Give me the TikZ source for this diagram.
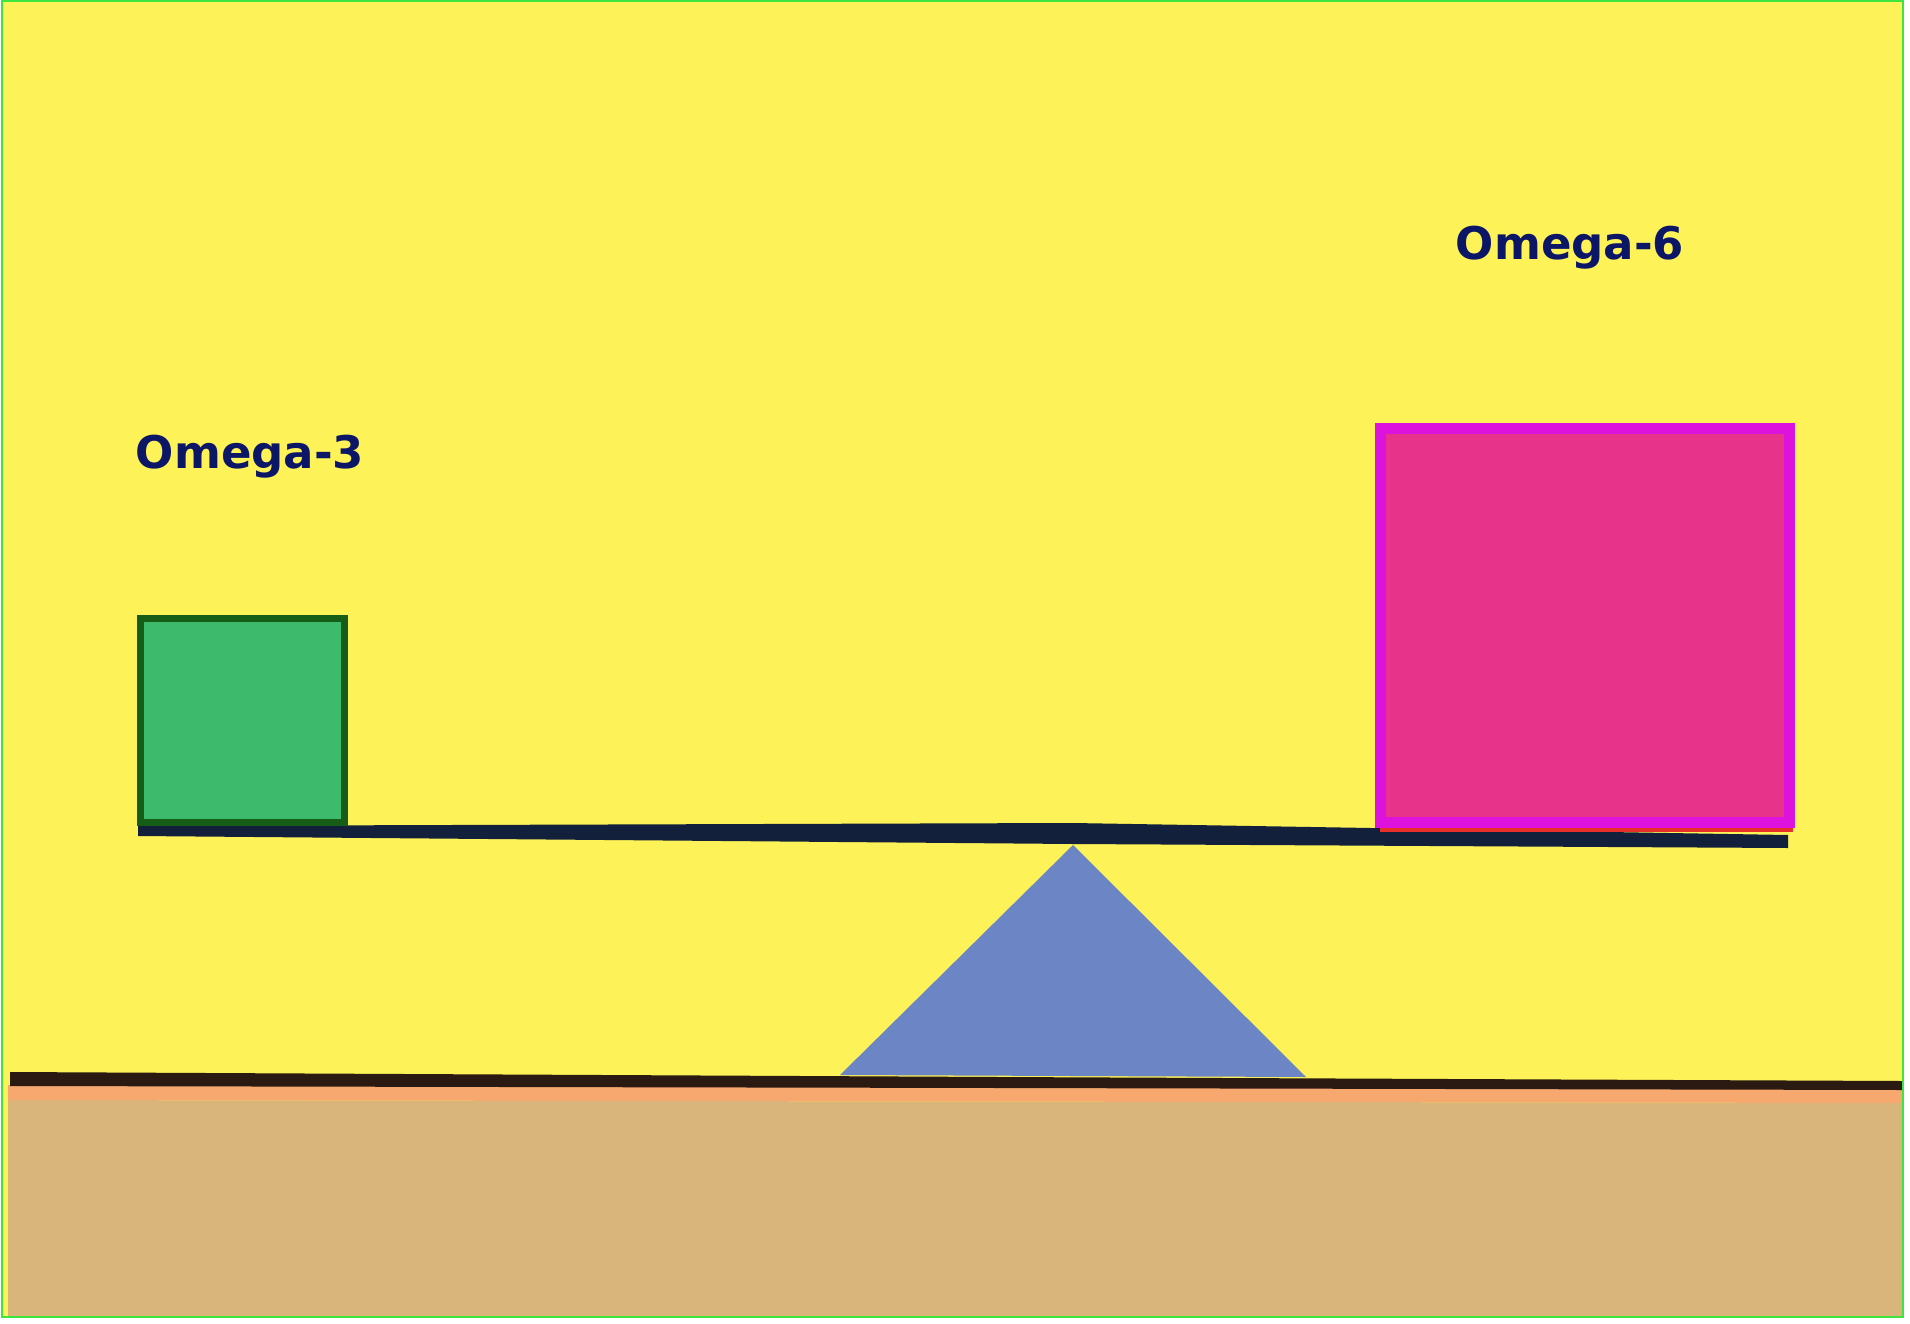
\documentclass[tikz,border=0pt]{standalone}
\usepackage{fontspec}
\setmainfont{DejaVu Sans}
\definecolor{paperyellow}{HTML}{FDF257}
\definecolor{framegreen}{HTML}{3CE63C}
\definecolor{tanpaper}{HTML}{D9B57C}
\definecolor{orangestrip}{HTML}{F6A86E}
\definecolor{groundink}{HTML}{2A1A12}
\definecolor{beamink}{HTML}{13203C}
\definecolor{fulcrumblue}{HTML}{6C86C5}
\definecolor{greenfill}{HTML}{3DBA6C}
\definecolor{greenedge}{HTML}{165E17}
\definecolor{pinkfill}{HTML}{E8338A}
\definecolor{pinkedge}{HTML}{DD12DD}
\definecolor{redshadow}{HTML}{E8302A}
\definecolor{labelnavy}{HTML}{0B1766}
\tikzset{
  label text/.style={text=labelnavy, font=\fontsize{45}{54}\selectfont\bfseries, inner sep=0pt, anchor=base},
}
\begin{document}
\begin{tikzpicture}[x=1pt,y=-1pt]
\useasboundingbox (0,0) rectangle (1910,1324);
\fill[white] (0,0) rectangle (1910,1324);
% yellow paper
\fill[paperyellow] (2,1) rectangle (1903,1317);
% tan ground
\fill[tanpaper] (8,1100) -- (1902,1103) -- (1902,1316) -- (8,1316) -- cycle;
% orange strip
\fill[orangestrip] (8,1085) -- (1902,1089) -- (1902,1103) -- (8,1100) -- cycle;
% ground ink line
\fill[groundink] (10,1072) -- (1000,1077) -- (1902,1081) -- (1902,1090) -- (1000,1088) -- (10,1086) -- cycle;
% fulcrum
\fill[fulcrumblue] (1073,845) -- (1306,1077) -- (840,1075) -- cycle;
% beam
\fill[beamink] (138,826) -- (1073,823) -- (1788,835) -- (1788,848) -- (1073,844) -- (138,836) -- cycle;
% green weight (omega-3)
\filldraw[fill=greenfill, draw=greenedge, line width=7pt] (140.5,618.5) rectangle (344.5,822.5);
% pink weight (omega-6)
\fill[redshadow] (1380,423) rectangle (1793,832);
\filldraw[fill=pinkfill, draw=pinkedge, line width=11pt] (1380.5,428.5) rectangle (1789.5,822.5);
% labels
\node[label text] (o3) at (250,468) {Omega-3};
\node[label text] (o6) at (1570,259) {Omega-6};
% frame
\draw[framegreen, line width=2pt] (2,1) rectangle (1903,1317);
\end{tikzpicture}
\end{document}
